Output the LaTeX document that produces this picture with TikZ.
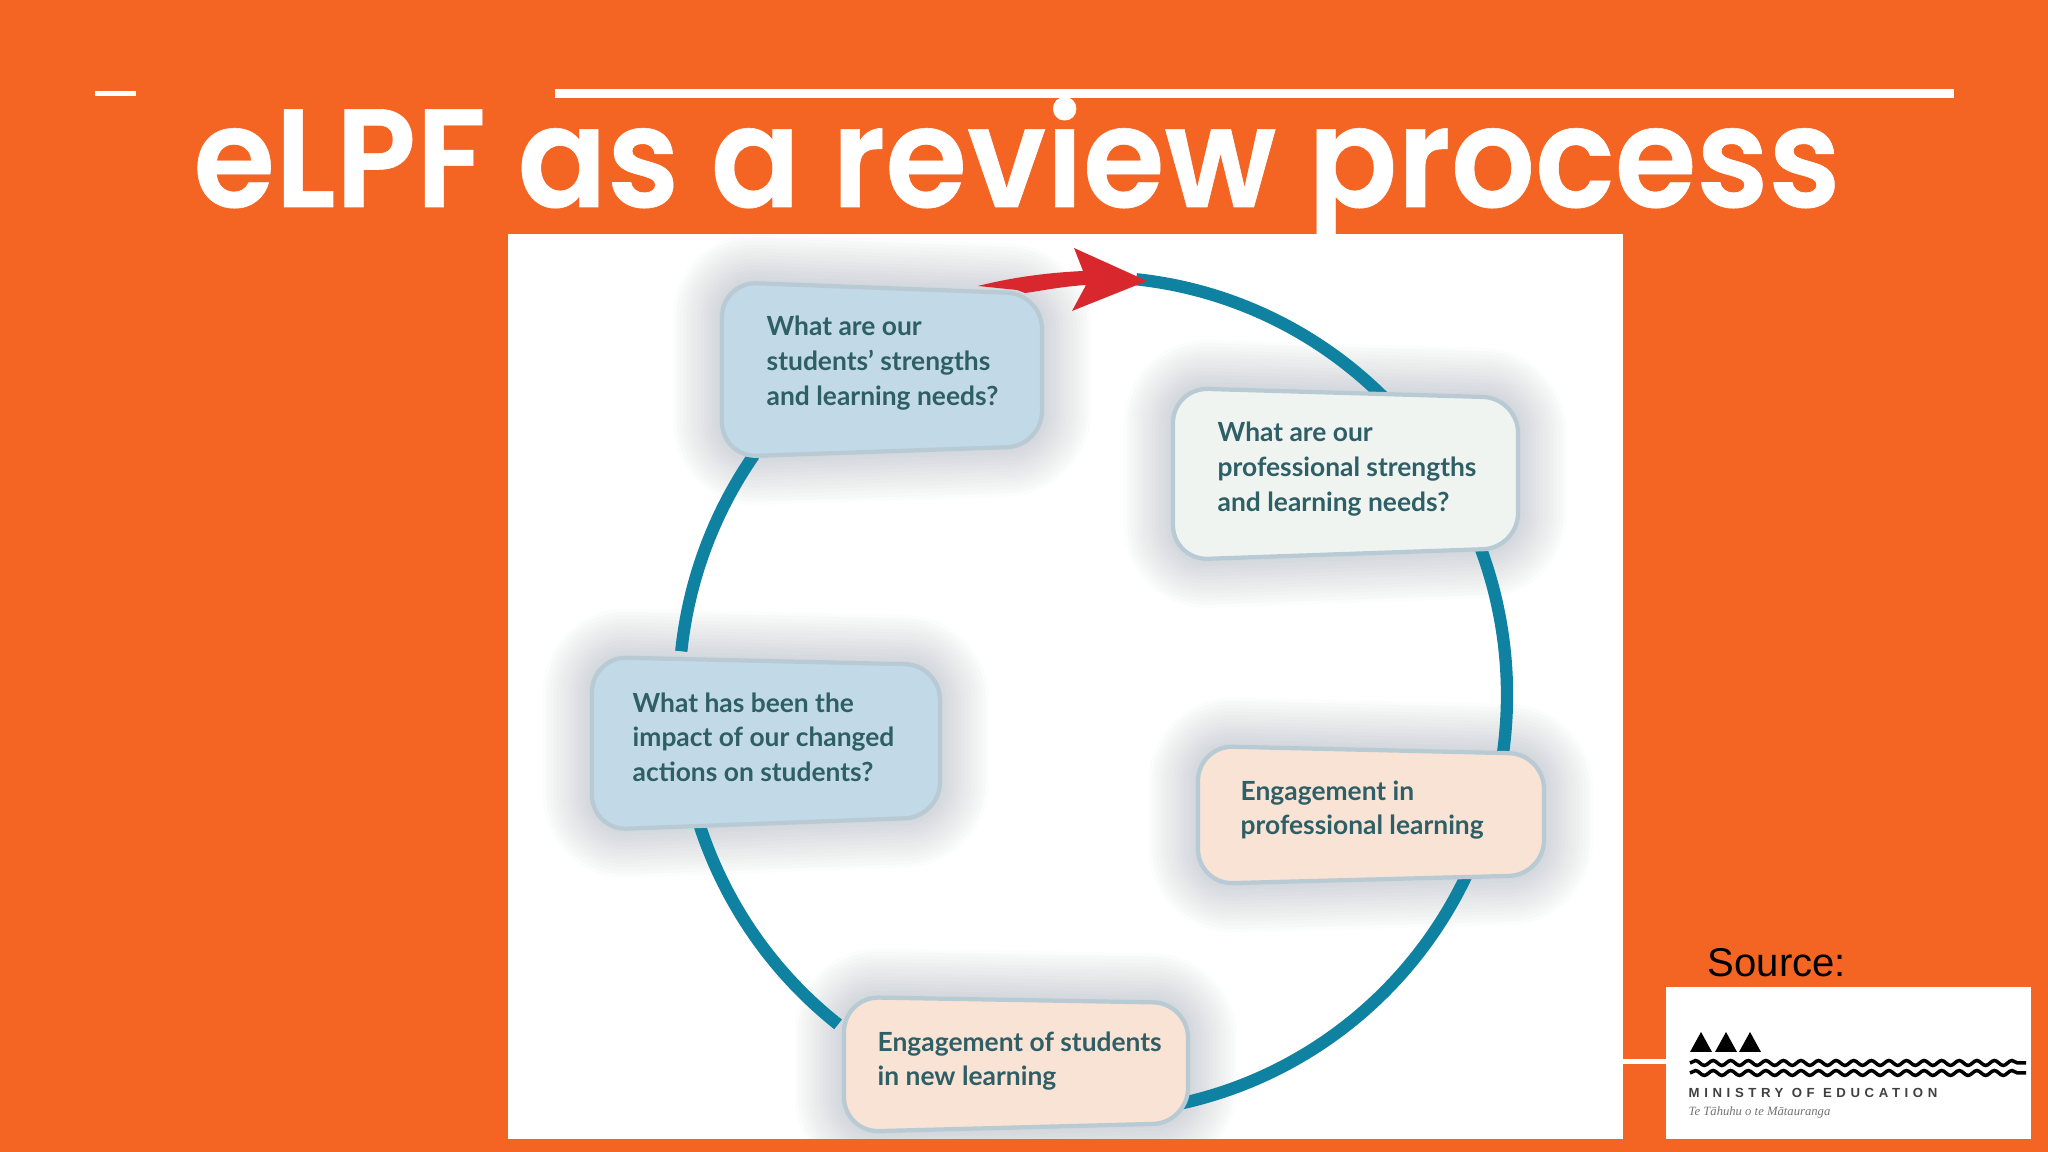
\documentclass[tikz,border=0pt]{standalone}
\usepackage{fontspec}
\setmainfont{Lato}
\newfontfamily\titlefont[BoldFont={Poppins SemiBold},BoldFeatures={FakeBold=0.4},FakeStretch=0.945]{Poppins}
\newfontfamily\srcfont{Liberation Sans}
\newfontfamily\logofont[LetterSpace=35]{Liberation Sans}
\newfontfamily\logoserif{Liberation Serif}
\usetikzlibrary{decorations.pathmorphing}
\definecolor{slideorange}{HTML}{F46524}
\definecolor{ringteal}{HTML}{0E82A0}
\definecolor{cardblue}{HTML}{C2D9E7}
\definecolor{cardpale}{HTML}{EFF4F0}
\definecolor{cardpeach}{HTML}{F8E3D5}
\definecolor{cardedge}{HTML}{B8CAD3}
\definecolor{cardshade}{HTML}{7A8A99}
\definecolor{cardtext}{HTML}{2F5F66}
\definecolor{arrowred}{HTML}{D9272E}
\tikzset{
	ringline/.style={draw=ringteal, line width=3.5pt, x radius=414, y radius=418},
	cardlabel/.style={anchor=west, align=left, inner sep=0pt, text=cardtext, font=\fontsize{7.5}{9.85}\selectfont\bfseries},
	waveline/.style={line width=1pt, decorate, decoration={snake, segment length=5pt, amplitude=0.7pt}}
}
% soft shadow of a card, from its four corners
\newcommand{\cardshadow}[4]{
	\foreach \w in {2,4,...,28}{
		\draw[draw=cardshade, draw opacity=0.025, line width=\w pt, line join=round, rounded corners=0.35cm] #1 -- #2 -- #3 -- #4 -- cycle;
	}
}
\newcommand{\card}[5]{
	\draw[draw=cardedge, fill=#1, line width=1.2pt, rounded corners=0.35cm] #2 -- #3 -- #4 -- #5 -- cycle;
}
\begin{document}
\begin{tikzpicture}[x=0.01cm,y=0.01cm]
	\useasboundingbox (0,0) rectangle (2048,1152);
	\fill[slideorange] (0,0) rectangle (2048,1152);
	\fill[white] (95,1056) rectangle (136,1061);
	\fill[white] (555,1054) rectangle (1954,1063);
	\fill[white] (508,13) rectangle (1623,918);
	\fill[white] (1666,13) rectangle (2031,165);
	\fill[white] (1623,88) rectangle (1666,93);
	\begin{scope}
		\clip (508,13) rectangle (1623,918);
		\cardshadow{(722,870)}{(1042,858)}{(1042,706)}{(722,695)}
		\cardshadow{(1173,764)}{(1518,754)}{(1518,604)}{(1173,592)}
		\cardshadow{(1198,406)}{(1544,398)}{(1544,277)}{(1198,268)}
		\cardshadow{(844,155)}{(1188,149)}{(1188,29)}{(844,20)}
		\cardshadow{(592,495)}{(940,487)}{(940,335)}{(592,322)}
	\end{scope}
	% ring between the cards
	\coordinate (ringc) at (1093,457);
	\path (ringc) ++(84:414 and 418) coordinate (r1);
	\path (ringc) ++(22:414 and 418) coordinate (r2);
	\path (ringc) ++(-24:414 and 418) coordinate (r3);
	\path (ringc) ++(232:414 and 418) coordinate (r4);
	\path (ringc) ++(174:414 and 418) coordinate (r5);
	\draw[ringline] (r1) arc[start angle=84, end angle=45];
	\draw[ringline] (r2) arc[start angle=22, end angle=-10];
	\draw[ringline] (r3) arc[start angle=-24, end angle=-78];
	\draw[ringline] (r4) arc[start angle=232, end angle=197];
	\draw[ringline] (r5) arc[start angle=174, end angle=145];
	\fill[arrowred] (978,866) .. controls (1010,874) and (1043,879) .. (1083,881) -- (1074,904) -- (1147,871) -- (1072,841) -- (1086,867) .. controls (1057,865) and (1035,860) .. (1025,859) -- (1017,862) -- cycle;
	\card{cardblue}{(722,870)}{(1042,858)}{(1042,706)}{(722,695)}
	\card{cardpale}{(1173,764)}{(1518,754)}{(1518,604)}{(1173,592)}
	\card{cardpeach}{(1198,406)}{(1544,398)}{(1544,277)}{(1198,268)}
	\card{cardpeach}{(844,155)}{(1188,149)}{(1188,29)}{(844,20)}
	\card{cardblue}{(592,495)}{(940,487)}{(940,335)}{(592,322)}
	\node[cardlabel] (needs1) at (766,789) {What are our\\students' strengths\\and learning needs?};
	\node[cardlabel] (needs2) at (1217,683) {What are our\\professional strengths\\and learning needs?};
	\node[cardlabel] (engage1) at (1240,342) {Engagement in\\professional learning};
	\node[cardlabel] (engage2) at (877,91) {Engagement of students\\in new learning};
	\node[cardlabel] (impact) at (632,415) {What has been the\\impact of our changed\\actions on students?};
	\node[anchor=base, inner sep=0pt, text=white, font=\titlefont\fontsize{39.8}{44}\selectfont\bfseries] (title) at (1017,945) {eLPF as a review process};
	\node[anchor=base west, inner sep=0pt, text=black, font=\srcfont\fontsize{11.4}{13}\selectfont] (source) at (1707,175) {Source:};
	% logo
	\fill[black] (1690,100) -- (1701,120) -- (1712,100) -- cycle;
	\fill[black] (1715,100) -- (1726,120) -- (1737,100) -- cycle;
	\fill[black] (1739,100) -- (1750,120) -- (1761,100) -- cycle;
	\coordinate (wave1a) at (1690,89);
	\coordinate (wave1b) at (2026,89);
	\coordinate (wave2a) at (1690,79);
	\coordinate (wave2b) at (2026,79);
	\draw[waveline] (wave1a) -- (wave1b);
	\draw[waveline] (wave2a) -- (wave2b);
	\node[anchor=west, inner sep=0pt, text=black!75, font=\logofont\fontsize{3.75}{4}\selectfont\bfseries] (ministry) at (1688,59) {MINISTRY OF EDUCATION};
	\node[anchor=west, inner sep=0pt, text=black!55, font=\logoserif\fontsize{3.6}{4}\selectfont\itshape] (maori) at (1688,40) {Te Tāhuhu o te Mātauranga};
\end{tikzpicture}
\end{document}
